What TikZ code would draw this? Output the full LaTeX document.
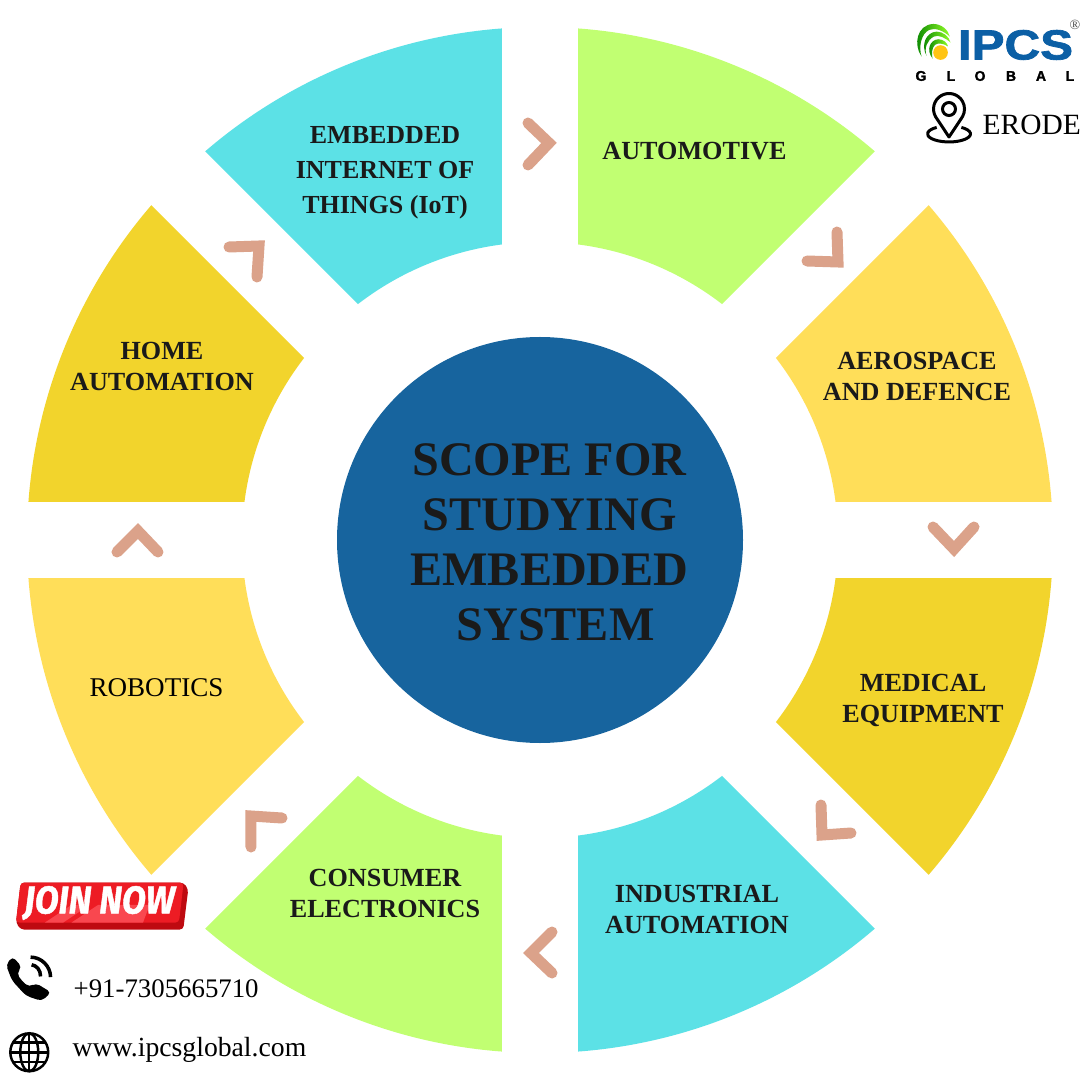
\documentclass[tikz,border=0pt]{standalone}
\usepackage{fontspec}
\setmainfont{Liberation Serif}
\newfontfamily\logofont[FakeBold=1.6]{Liberation Sans Bold}
\newfontfamily\joinfont[FakeBold=1.2]{Fira Sans}
\definecolor{segcyan}{HTML}{5CE1E6}
\definecolor{seglime}{HTML}{C1FF72}
\definecolor{segyellow}{HTML}{FFDE59}
\definecolor{seggold}{HTML}{F2D42C}
\definecolor{hubblue}{HTML}{17649E}
\definecolor{chevcolor}{HTML}{DBA28A}
\definecolor{inkdark}{HTML}{1A1A1A}
\definecolor{logoblue}{HTML}{0B5FA5}
\definecolor{joinred}{HTML}{ED1C24}
\definecolor{joindark}{HTML}{BE0A10}
\definecolor{joinlight}{HTML}{F9474F}
\definecolor{ballyellow}{HTML}{FFC414}

\begin{document}
\begin{tikzpicture}[
    chevron/.style={draw=chevcolor,line width=0.11cm,line cap=round},
    seglabel/.style={align=center,text=inkdark,font=\fontsize{7.44}{8.75}\selectfont\bfseries},
    contact/.style={anchor=west,inner sep=0pt,text=black},
    logoletter/.style={text=black,font=\logofont\fontsize{4}{5}\selectfont},
    icon/.style={draw=black,line width=0.7pt}
]
    \useasboundingbox (-5.4,-5.4) rectangle (5.4,5.4);
    \fill[white] (-5.4,-5.4) rectangle (5.4,5.4);

    % ring of segments
    \fill[seglime] (82.67:2.98) -- (85.75:5.13) arc[start angle=85.75,end angle=49.25,radius=5.13] -- (52.33:2.98) arc[start angle=52.33,end angle=82.67,radius=2.98] -- cycle;
    \fill[segyellow] (37.67:2.98) -- (40.75:5.13) arc[start angle=40.75,end angle=4.25,radius=5.13] -- (7.33:2.98) arc[start angle=7.33,end angle=37.67,radius=2.98] -- cycle;
    \fill[seggold] (-7.33:2.98) -- (-4.25:5.13) arc[start angle=-4.25,end angle=-40.75,radius=5.13] -- (-37.67:2.98) arc[start angle=-37.67,end angle=-7.33,radius=2.98] -- cycle;
    \fill[segcyan] (-52.33:2.98) -- (-49.25:5.13) arc[start angle=-49.25,end angle=-85.75,radius=5.13] -- (-82.67:2.98) arc[start angle=-82.67,end angle=-52.33,radius=2.98] -- cycle;
    \fill[seglime] (-97.33:2.98) -- (-94.25:5.13) arc[start angle=-94.25,end angle=-130.75,radius=5.13] -- (-127.67:2.98) arc[start angle=-127.67,end angle=-97.33,radius=2.98] -- cycle;
    \fill[segyellow] (-142.33:2.98) -- (-139.25:5.13) arc[start angle=-139.25,end angle=-175.75,radius=5.13] -- (-172.67:2.98) arc[start angle=-172.67,end angle=-142.33,radius=2.98] -- cycle;
    \fill[seggold] (-187.33:2.98) -- (-184.25:5.13) arc[start angle=-184.25,end angle=-220.75,radius=5.13] -- (-217.67:2.98) arc[start angle=-217.67,end angle=-187.33,radius=2.98] -- cycle;
    \fill[segcyan] (-232.33:2.98) -- (-229.25:5.13) arc[start angle=-229.25,end angle=-265.75,radius=5.13] -- (-262.67:2.98) arc[start angle=-262.67,end angle=-232.33,radius=2.98] -- cycle;

    % chevrons between the segments
    \draw[chevron] (-0.12,4.17) -- (0.09,3.97) -- (-0.12,3.75);
    \draw[chevron] (2.97,3.08) -- (2.98,2.78) -- (2.67,2.79);
    \draw[chevron] (3.93,0.13) -- (4.14,-0.09) -- (4.34,0.13);
    \draw[chevron] (2.81,-2.65) -- (2.82,-2.95) -- (3.11,-2.93);
    \draw[chevron] (0.12,-3.92) -- (-0.09,-4.13) -- (0.12,-4.33);
    \draw[chevron] (-2.58,-2.78) -- (-2.89,-2.76) -- (-2.89,-3.07);
    \draw[chevron] (-4.23,-0.12) -- (-4.02,0.09) -- (-3.82,-0.12);
    \draw[chevron] (-3.11,2.93) -- (-2.81,2.94) -- (-2.83,2.63);

    % hub
    \fill[hubblue] (0,0) circle (2.03);
    \node[align=center,text=inkdark,font=\fontsize{13.7}{15.65}\selectfont\bfseries] (hub) at (0.095,-0.025)
        {SCOPE FOR\\STUDYING\\EMBEDDED\\\hspace*{3.4pt}SYSTEM};

    % segment labels
    \begin{scope}[every node/.style={seglabel}]
        \node[font=\fontsize{7.4}{9.95}\selectfont\bfseries] (iot) at (-1.55,3.675) {EMBEDDED\\INTERNET OF\\THINGS (IoT)};
        \node (automotive) at (1.545,3.89) {AUTOMOTIVE};
        \node (aerospace) at (3.77,1.635) {AEROSPACE\\AND DEFENCE};
        \node (medical) at (3.83,-1.605) {MEDICAL\\EQUIPMENT};
        \node (industrial) at (1.57,-3.695) {INDUSTRIAL\\AUTOMATION};
        \node (consumer) at (-1.55,-3.535) {CONSUMER\\ELECTRONICS};
        \node[text=black,font=\fontsize{7.7}{8.8}\selectfont] (robotics) at (-3.835,-1.48) {ROBOTICS};
        \node (home) at (-3.78,1.735) {HOME\\AUTOMATION};
    \end{scope}

    % logo
    \begin{scope}[shift={(3.4,5.4)},x=0.00333cm,y=-0.00333cm]
        \shade[left color=green!50!black,right color=green!50!yellow!85!white] (125,170) .. controls (100,135) and (110,75) .. (160,72) .. controls (185,72) and (205,90) .. (210,110) .. controls (190,92) and (165,82) .. (148,90) .. controls (125,100) and (115,140) .. (125,170) -- cycle;
        \shade[left color=green!50!black,right color=green!50!yellow!85!white] (140,168) .. controls (122,135) and (138,97) .. (170,95) .. controls (190,95) and (208,110) .. (212,128) .. controls (195,112) and (175,104) .. (162,110) .. controls (142,120) and (132,145) .. (140,168) -- cycle;
        \shade[left color=green!50!black,right color=green!50!yellow!85!white] (158,176) .. controls (138,150) and (150,120) .. (175,118) .. controls (190,118) and (202,128) .. (205,140) .. controls (190,130) and (175,128) .. (165,135) .. controls (155,145) and (155,165) .. (158,176) -- cycle;
        \fill[ballyellow] (182,158) circle (22);
    \end{scope}
    \node[text=logoblue,font=\logofont\fontsize{12}{14}\selectfont,xscale=1.17,transform shape] (ipcs) at (4.755,4.95) {IPCS};
    \node[text=black!70,font=\fontsize{4}{5}\selectfont] (regmark) at (5.35,5.15) {\textregistered};
    \node[logoletter] (gletter) at (3.81,4.64) {G};
    \node[logoletter] (lletter) at (4.11,4.64) {L};
    \node[logoletter] (oletter) at (4.40,4.64) {O};
    \node[logoletter] (bletter) at (4.71,4.64) {B};
    \node[logoletter] (aletter) at (5.01,4.64) {A};
    \node[logoletter] (lastletter) at (5.30,4.64) {L};

    % location pin
    \draw[icon,line width=0.85pt,line join=round] (4.09,4.03) -- (3.956,4.2325) arc[start angle=210,end angle=-30,radius=0.155] -- cycle;
    \draw[icon,line width=0.85pt] (4.09,4.31) circle (0.065);
    \draw[icon,line width=0.85pt] (3.967,4.126) arc[start angle=125,end angle=415,x radius=0.215,y radius=0.08];
    \node[anchor=west,text=black,inner sep=0pt,font=\fontsize{8.37}{10}\selectfont] (erode) at (4.42,4.15) {ERODE};

    % join button
    \begin{scope}[shift={(-5.4,-3.3)},x=0.00333cm,y=-0.00333cm]
        \fill[joindark,rounded corners=1pt] (62,38) -- (552,38) -- (566,58) -- (551,179) -- (62,179) -- (48,158) -- cycle;
        \fill[joinred,rounded corners=1pt] (62,38) -- (552,38) -- (538,158) -- (48,158) -- cycle;
        \fill[joinlight] (135,158) -- (215,105) -- (270,105) -- (190,158) -- cycle;
        \fill[joinlight] (215,158) -- (295,105) -- (450,105) -- (430,158) -- cycle;
    \end{scope}
    \node[text=white,font=\joinfont\fontsize{11}{13}\selectfont\bfseries\itshape,xscale=0.9,transform shape] (join) at (-4.405,-3.63) {JOIN NOW};

    % phone
    \begin{scope}[shift={(-5.4,-3.3)},x=0.00333cm,y=-0.00333cm]
        \fill[black,rounded corners=1.2pt] (38,260) -- (66,292) -- (50,310) -- (66,334) -- (88,352) -- (108,340) -- (154,368) -- (125,394) -- (78,378) -- (36,332) -- (18,285) -- cycle;
        \draw[icon,line width=1pt] (95,285) .. controls (110,287) and (122,300) .. (122,320);
        \draw[icon,line width=1pt] (92,262) .. controls (125,262) and (152,290) .. (152,322);
    \end{scope}
    \node[contact,font=\fontsize{7.63}{9}\selectfont] (phone) at (-4.67,-4.49) {+91-7305665710};

    % globe
    \begin{scope}[shift={(-5.4,-3.3)},x=0.00333cm,y=-0.00333cm]
        \draw[icon] (88,548) circle (57);
        \draw[icon] (88,548) ellipse (27 and 57);
        \draw[icon] (88,491) -- (88,605);
        \draw[icon] (31,548) -- (145,548);
        \draw[icon] (40,518) -- (136,518);
        \draw[icon] (40,578) -- (136,578);
    \end{scope}
    \node[contact,font=\fontsize{7.88}{9}\selectfont] (web) at (-4.68,-5.10) {www.ipcsglobal.com};
\end{tikzpicture}
\end{document}
